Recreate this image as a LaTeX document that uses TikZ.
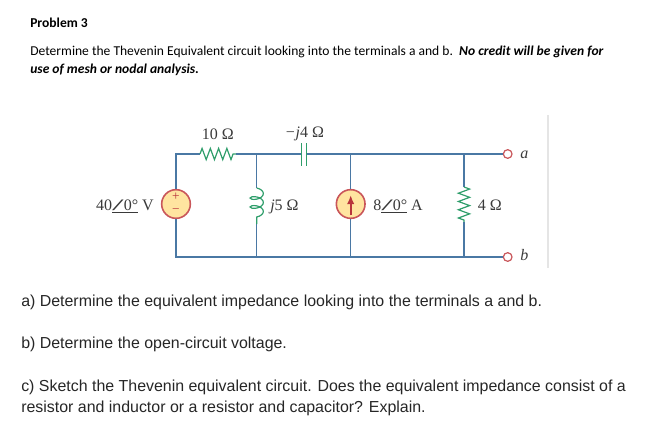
\documentclass[tikz,border=0pt]{standalone}
\usepackage{fontspec}
\setmainfont{Liberation Serif}
\newfontfamily\docfont{Carlito}
\newfontfamily\qfont{Liberation Sans}
\usepackage{tikz}
\usetikzlibrary{decorations.pathmorphing,arrows.meta}
\definecolor{wirecol}{HTML}{4A78A4}
\definecolor{partcol}{HTML}{2F9E6B}
\definecolor{rimcol}{HTML}{C9565A}
\definecolor{srccol}{HTML}{FFE4A0}
\definecolor{labcol}{HTML}{3A3A3A}
\definecolor{markcol}{HTML}{B8353C}
\newcommand{\phasor}[1]{\underline{\scalebox{2.6}[1]{/}#1\textdegree}}
\tikzset{
    wire/.style={draw=wirecol, line width=1.1pt},
    res/.style={draw=partcol, line width=0.9pt, decorate, decoration={zigzag, segment length=6.2pt, amplitude=4.2pt}},
    ind/.style={draw=partcol, line width=0.9pt, decorate, decoration={coil, aspect=0.5, segment length=6.7pt, amplitude=5pt}},
    capplate/.style={draw=partcol, line width=1.1pt},
    src/.style={shape=circle, draw=rimcol, fill=srccol, line width=1.2pt, minimum size=21.5pt, inner sep=0pt},
    term/.style={shape=circle, draw=rimcol, fill=white, line width=0.9pt, minimum size=6.5pt, inner sep=0pt},
    lab/.style={text=labcol, font=\fontsize{12}{14}\selectfont, inner sep=0pt, anchor=base},
    srcmark/.style={text=markcol, inner sep=0pt, font=\fontsize{10}{10}\selectfont},
    doc/.style={text=black, font=\docfont\fontsize{10.17}{12}\selectfont, inner sep=0pt, anchor=base west},
    qtext/.style={text=black!85, font=\qfont\fontsize{11.95}{14}\selectfont, inner sep=0pt, anchor=base west}
}
\begin{document}
\begin{tikzpicture}[x=0.75pt, y=-0.75pt]
    \useasboundingbox (0,0) rectangle (670,428);
    % text above the circuit
    \node[doc] at (30,28) (title) {\bfseries Problem 3};
    \node[doc] at (30,55.5) (intro) {Determine the Thevenin Equivalent circuit looking into the terminals a and b.\ \ \textbf{\itshape No credit will be given for}};
    \node[doc] at (30,73.3) (introb) {\textbf{\itshape use of mesh or nodal analysis.}};
    % corners and junctions
    \coordinate (TL) at (176,154);
    \coordinate (BL) at (176,257);
    \coordinate (TM) at (256.7,154);
    \coordinate (BM) at (256.7,257);
    \coordinate (TS) at (350.7,154);
    \coordinate (BS) at (350.7,257);
    \coordinate (TR) at (464,154);
    \coordinate (BR) at (464,257);
    % sources and terminals
    \node[src] at (176,204) (VS) {};
    \node[src] at (350.7,204) (IS) {};
    \node[term] at (507.7,154) (A) {};
    \node[term] at (507.7,257) (B) {};
    % ends of the parts
    \coordinate (R1a) at (200,154);
    \coordinate (R1b) at (236,154);
    \coordinate (C1a) at (301.7,154);
    \coordinate (C1b) at (306.7,154);
    \coordinate (L1a) at (256.7,188);
    \coordinate (L1b) at (256.7,224);
    \coordinate (R2a) at (464,187);
    \coordinate (R2b) at (464,222);
    % wires
    \draw[wire] (VS) -- (TL) -- (R1a);
    \draw[wire] (R1b) -- (C1a);
    \draw[wire] (C1b) -- (A);
    \draw[wire] (VS) -- (BL) -- (B);
    \draw[wire] (TM) -- (L1a);
    \draw[wire] (L1b) -- (BM);
    \draw[wire] (TS) -- (IS) -- (BS);
    \draw[wire] (TR) -- (R2a);
    \draw[wire] (R2b) -- (BR);
    % parts
    \draw[res] (R1a) -- (R1b);
    \draw[res] (R2a) -- (R2b);
    \draw[ind] (L1a) -- (L1b);
    \draw[capplate] (301.7,143) -- (301.7,166);
    \draw[capplate] (306.7,143) -- (306.7,166);
    % marks inside the sources
    \node[srcmark] at (176,197) (VSp) {+};
    \node[srcmark] at (176,211) (VSm) {−};
    \coordinate (ISa) at (350.7,215);
    \coordinate (ISb) at (350.7,195);
    \draw[draw=markcol, fill=markcol, line width=1.5pt, -{Latex[length=6.75pt,width=5.5pt]}] (ISa) -- (ISb);
    % labels
    \node[lab] at (217.7,139) (R1lab) {10 Ω};
    \node[lab] at (304.5,137.7) (C1lab) {\textit{−j}4 Ω};
    \node[lab, anchor=base east] at (154,210) (VSlab) {40\phasor{0} V};
    \node[lab, anchor=base west] at (270,210) (L1lab) {\textit{j}5 Ω};
    \node[lab, anchor=base west] at (373,210) (ISlab) {8\phasor{0} A};
    \node[lab, anchor=base west] at (477.7,210) (R2lab) {4 Ω};
    \node[lab, anchor=base west] at (520,158) (Alab) {\textit{a}};
    \node[lab, anchor=base west] at (520,260.5) (Blab) {\textit{b}};
    \draw[draw=black!10, line width=1.5pt] (548,115) -- (548,268);
    % text below the circuit
    \node[qtext] at (21,306.5) (qa) {a) Determine the equivalent impedance looking into the terminals a and b.};
    \node[qtext] at (21,348) (qb) {b) Determine the open-circuit voltage.};
    \node[qtext] at (21,391.7) (qc) {c) Sketch the Thevenin equivalent circuit. Does the equivalent impedance consist of a};
    \node[qtext] at (21,412.5) (qd) {resistor and inductor or a resistor and capacitor? Explain.};
\end{tikzpicture}
\end{document}
